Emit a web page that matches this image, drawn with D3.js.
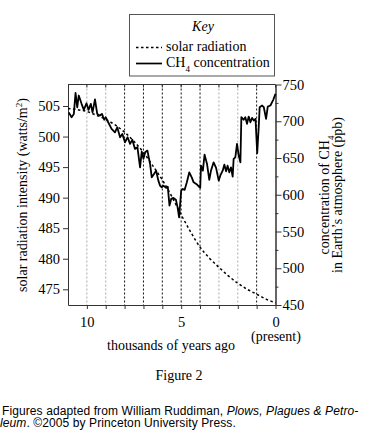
<!DOCTYPE html>
<html>
<head>
<meta charset="utf-8">
<script src="https://cdn.jsdelivr.net/npm/d3@7"></script>
<style>
  body { margin: 0; background: #fff; }
  svg text { font-family: "Liberation Serif", "Times New Roman", serif; fill: #000; }
</style>
</head>
<body>
<script>
// thousands of years ago for the solar curve, and watts/m2
let solarYears = [11, 10.5, 10, 9.5, 9, 8.5, 8, 7.5, 7, 6.5, 6, 5.5, 5, 4.5, 4, 3.5, 3, 2.5, 2, 1.5, 1, 0.5, 0];
let solarValues = [504.6, 504.4, 504.1, 503.5, 502.8, 501.9, 500.7, 499.2, 497.4, 495.2, 492.9, 490.2, 487.2, 484.4, 481.9, 480.1, 478.6, 477.2, 476.0, 475.0, 474.2, 473.4, 472.8];

// CH4 record (ppb)
let ch4Years = [10.96, 10.81, 10.69, 10.6, 10.51, 10.43, 10.28, 10.16, 10.02, 9.91, 9.79, 9.7, 9.57, 9.45, 9.31, 9.2, 9.08, 9.0, 8.87, 8.69, 8.51, 8.39, 8.24, 8.12, 7.98, 7.84, 7.71, 7.59, 7.45, 7.32, 7.18, 7.09, 7.0, 6.91, 6.79, 6.65, 6.56, 6.44, 6.33, 6.21, 6.12, 6.03, 5.94, 5.8, 5.71, 5.62, 5.53, 5.41, 5.28, 5.19, 5.11, 5.0, 4.91, 4.82, 4.7, 4.57, 4.43, 4.34, 4.16, 3.99, 3.95, 3.85, 3.76, 3.63, 3.51, 3.42, 3.28, 3.15, 3.01, 2.93, 2.8, 2.71, 2.62, 2.54, 2.45, 2.36, 2.27, 2.22, 2.13, 2.04, 1.95, 1.86, 1.81, 1.69, 1.6, 1.51, 1.42, 1.33, 1.24, 1.15, 1.06, 0.97, 0.89, 0.84, 0.71, 0.62, 0.5, 0.41, 0.27, 0.12, 0];
let ch4Values = [712, 705.5, 710, 738.7, 719, 735, 723.7, 715.5, 724.5, 715.5, 723.7, 712, 729.6, 710, 707.8, 710, 702, 705.5, 698.6, 689.6, 685, 691.8, 678.2, 682.8, 671.4, 678.2, 669.2, 674.7, 662.4, 664.7, 637.3, 658.7, 648.8, 657.8, 660.1, 641.9, 623.7, 628.3, 632.8, 619.2, 612.4, 610.1, 612.4, 609.3, 611, 585.2, 594.3, 595.7, 593.3, 582.8, 569.1, 605.6, 607.9, 606.6, 616.9, 630.5, 622.9, 616.9, 613.8, 609.3, 639.6, 632.8, 654.6, 641.9, 620.2, 632.8, 644.1, 636.5, 619.2, 626, 632.8, 641, 631.9, 639.6, 630.5, 637.3, 624.7, 648.8, 650.9, 669.2, 653.3, 644.1, 705.5, 702, 705.5, 696.5, 706.4, 698.6, 704.6, 701, 703.3, 656.4, 691.8, 719.1, 721.4, 719.1, 703.3, 720, 721.4, 729.1, 737.3];

let xTicks = [10, 5, 0];
let leftTicks = [475, 480, 485, 490, 495, 500, 505];
let rightTicks = [450, 500, 550, 600, 650, 700, 750];
let gridYears = [10, 9, 8, 7, 6, 5, 4, 3, 2, 1];
let grayGrid = [10, 9, 3, 2];

let width = 373;
let height = 436;

let plotLeft = 68, plotRight = 275.5, plotTop = 84.5, plotBottom = 305;

let svg = d3.select("body").append("svg")
  .attr("width", width)
  .attr("height", height);

let x = d3.scaleLinear().domain([11, 0]).range([plotLeft, plotRight]);
let yL = d3.scaleLinear().domain([472.43, 508.52]).range([plotBottom, plotTop]);
let yR = d3.scaleLinear().domain([450, 750]).range([plotBottom, plotTop]);

// vertical dotted lines
svg.append("g")
  .selectAll("line")
  .data(gridYears)
  .enter()
  .append("line")
  .attr("x1", (d) => x(d))
  .attr("x2", (d) => x(d))
  .attr("y1", plotTop)
  .attr("y2", plotBottom)
  .attr("stroke", (d) => (grayGrid.includes(d) ? "#aaa" : "#111"))
  .attr("stroke-width", 1)
  .attr("stroke-dasharray", "2,2");

// top frame line with small ticks
svg.append("line")
  .attr("x1", plotLeft).attr("x2", plotRight)
  .attr("y1", plotTop).attr("y2", plotTop)
  .attr("stroke", "#333");
svg.append("g")
  .selectAll("line")
  .data(gridYears.concat([0]))
  .enter()
  .append("line")
  .attr("x1", (d) => x(d)).attr("x2", (d) => x(d))
  .attr("y1", plotTop).attr("y2", plotTop + 3)
  .attr("stroke", "#333");

let tickFont = (g) => {
  g.selectAll("text")
    .style("font-family", '"Liberation Serif", serif')
    .style("font-size", "14.5px")
    .attr("fill", "#000");
  g.select(".domain").attr("stroke", "#333");
  g.selectAll(".tick line").attr("stroke", "#333");
};

// bottom axis
let xAxis = d3.axisBottom(x)
  .tickValues(d3.range(0, 11))
  .tickSize(4)
  .tickSizeOuter(0)
  .tickFormat((d) => (xTicks.includes(d) ? d : ""));
svg.append("g")
  .attr("transform", `translate(0,${plotBottom})`)
  .call(xAxis)
  .call(tickFont)
  .call((g) => g.selectAll("text").attr("dy", "1.05em"));

// left axis
svg.append("g")
  .attr("transform", `translate(${plotLeft},0)`)
  .call(d3.axisLeft(yL).tickValues(leftTicks).tickSize(5).tickSizeOuter(0).tickPadding(3))
  .call(tickFont);

// right axis, major and minor ticks
svg.append("g")
  .attr("transform", `translate(${plotRight},0)`)
  .call(d3.axisRight(yR).tickValues(d3.range(475, 750, 50)).tickSize(3).tickSizeOuter(0).tickFormat(""))
  .call(tickFont);
svg.append("g")
  .attr("transform", `translate(${plotRight},0)`)
  .call(d3.axisRight(yR).tickValues(rightTicks).tickSize(6).tickSizeOuter(0).tickPadding(1))
  .call(tickFont);

// solar radiation (dashed)
let solarLine = d3.line()
  .x((d, i) => x(solarYears[i]))
  .y((d) => yL(d))
  .curve(d3.curveMonotoneX);
svg.append("path")
  .datum(solarValues)
  .attr("d", solarLine)
  .attr("fill", "none")
  .attr("stroke", "#000")
  .attr("stroke-width", 1.5)
  .attr("stroke-dasharray", "2.5,2.5");

// CH4 concentration (solid)
let ch4Line = d3.line()
  .x((d, i) => x(ch4Years[i]))
  .y((d) => yR(d));
svg.append("path")
  .datum(ch4Values)
  .attr("d", ch4Line)
  .attr("fill", "none")
  .attr("stroke", "#000")
  .attr("stroke-width", 1.8)
  .attr("stroke-linejoin", "round");

// axis titles
let lt = svg.append("text")
  .attr("transform", "translate(27,195) rotate(-90)")
  .attr("text-anchor", "middle")
  .style("font-size", "14px");
lt.append("tspan").text("solar radiation intensity (watts/m");
lt.append("tspan").attr("baseline-shift", "super").style("font-size", "9px").text("2");
lt.append("tspan").text(")");

let rt = svg.append("text")
  .attr("transform", "translate(329,195) rotate(-90)")
  .attr("text-anchor", "middle")
  .style("font-size", "14px");
rt.append("tspan").text("concentration of CH");
rt.append("tspan").attr("baseline-shift", "sub").style("font-size", "9px").text("4");

svg.append("text")
  .attr("transform", "translate(341.5,195) rotate(-90)")
  .attr("text-anchor", "middle")
  .style("font-size", "14px")
  .text("in Earth\u2019s atmosphere (ppb)");

svg.append("text")
  .attr("x", 171).attr("y", 350)
  .attr("text-anchor", "middle")
  .style("font-size", "14px")
  .text("thousands of years ago");

svg.append("text")
  .attr("x", 276).attr("y", 341)
  .attr("text-anchor", "middle")
  .style("font-size", "14px")
  .text("(present)");

svg.append("text")
  .attr("x", 179).attr("y", 380)
  .attr("text-anchor", "middle")
  .style("font-size", "14px")
  .text("Figure 2");

// key box
let key = svg.append("g");
key.append("rect")
  .attr("x", 129.5).attr("y", 14.5)
  .attr("width", 145).attr("height", 61.5)
  .attr("fill", "#fff")
  .attr("stroke", "#555");
key.append("text")
  .attr("x", 203).attr("y", 31)
  .attr("text-anchor", "middle")
  .style("font-size", "14px")
  .style("font-style", "italic")
  .text("Key");
key.append("line")
  .attr("x1", 136).attr("x2", 162)
  .attr("y1", 47.5).attr("y2", 47.5)
  .attr("stroke", "#000").attr("stroke-width", 1.3)
  .attr("stroke-dasharray", "2.5,2.5");
key.append("text")
  .attr("x", 166).attr("y", 51)
  .style("font-size", "14px")
  .text("solar radiation");
key.append("line")
  .attr("x1", 136).attr("x2", 162)
  .attr("y1", 63.5).attr("y2", 63.5)
  .attr("stroke", "#000").attr("stroke-width", 1.7);
let kt = key.append("text")
  .attr("x", 166).attr("y", 67)
  .style("font-size", "14px");
kt.append("tspan").text("CH");
kt.append("tspan").attr("baseline-shift", "sub").style("font-size", "9px").text("4");
kt.append("tspan").text(" concentration");

// source note
let note = svg.append("text")
  .attr("x", 2).attr("y", 414.5)
  .style("font-family", '"Liberation Sans", Arial, sans-serif')
  .style("font-size", "12px")
  .style("letter-spacing", "0.1px");
note.append("tspan").text("Figures adapted from William Ruddiman, ");
note.append("tspan").style("font-style", "italic").text("Plows, Plagues & Petro-");
let note2 = svg.append("text")
  .attr("x", 0).attr("y", 427)
  .style("font-family", '"Liberation Sans", Arial, sans-serif')
  .style("font-size", "12px")
  .style("letter-spacing", "0.1px");
note2.append("tspan").style("font-style", "italic").text("leum");
note2.append("tspan").text(". \u00a92005 by Princeton University Press.");
</script>
</body>
</html>
